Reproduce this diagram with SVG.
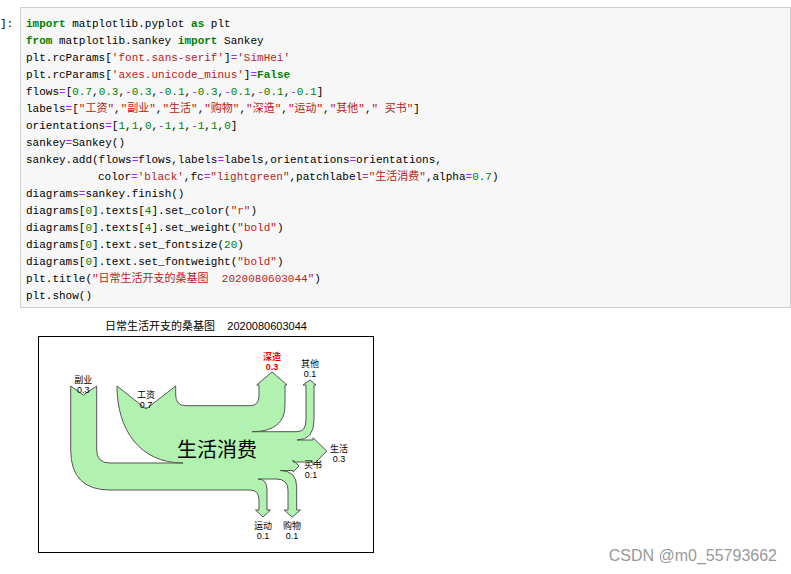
<svg xmlns="http://www.w3.org/2000/svg" width="791" height="574" viewBox="0 0 791 574">
<style>
.c{font-family:"Liberation Mono","Noto Sans CJK SC",monospace;font-size:11px;fill:#000}
.k{fill:#008000;font-weight:bold}.s{fill:#ba2121}.o{fill:#aa22ff}.n{fill:#008000}
.l{font-family:"Liberation Sans","Noto Sans CJK SC",sans-serif;font-size:9px;text-anchor:middle;fill:#000}
.r{fill:#ee0000;font-weight:bold}
</style>
<rect width="791" height="574" fill="#fff"/>
<rect x="20.5" y="7.5" width="770" height="300" fill="#f7f7f7" stroke="#cfcfcf"/>
<text x="0" y="27" class="c">]:</text>
<g id="code" class="c">
<text x="26" y="27"><tspan class="k">import</tspan> matplotlib.pyplot <tspan class="k">as</tspan> plt</text>
<text x="26" y="44"><tspan class="k">from</tspan> matplotlib.sankey <tspan class="k">import</tspan> Sankey</text>
<text x="26" y="61">plt.rcParams[<tspan class="s">'font.sans-serif'</tspan>]<tspan class="o">=</tspan><tspan class="s">'SimHei'</tspan></text>
<text x="26" y="78">plt.rcParams[<tspan class="s">'axes.unicode_minus'</tspan>]<tspan class="o">=</tspan><tspan class="k">False</tspan></text>
<text x="26" y="95">flows<tspan class="o">=</tspan>[<tspan class="n">0.7</tspan>,<tspan class="n">0.3</tspan>,<tspan class="o">-</tspan><tspan class="n">0.3</tspan>,<tspan class="o">-</tspan><tspan class="n">0.1</tspan>,<tspan class="o">-</tspan><tspan class="n">0.3</tspan>,<tspan class="o">-</tspan><tspan class="n">0.1</tspan>,<tspan class="o">-</tspan><tspan class="n">0.1</tspan>,<tspan class="o">-</tspan><tspan class="n">0.1</tspan>]</text>
<text x="26" y="112" xml:space="preserve">labels<tspan class="o">=</tspan>[<tspan class="s">"工资"</tspan>,<tspan class="s">"副业"</tspan>,<tspan class="s">"生活"</tspan>,<tspan class="s">"购物"</tspan>,<tspan class="s">"深造"</tspan>,<tspan class="s">"运动"</tspan>,<tspan class="s">"其他"</tspan>,<tspan class="s">" 买书"</tspan>]</text>
<text x="26" y="129">orientations<tspan class="o">=</tspan>[<tspan class="n">1</tspan>,<tspan class="n">1</tspan>,<tspan class="n">0</tspan>,<tspan class="o">-</tspan><tspan class="n">1</tspan>,<tspan class="n">1</tspan>,<tspan class="o">-</tspan><tspan class="n">1</tspan>,<tspan class="n">1</tspan>,<tspan class="n">0</tspan>]</text>
<text x="26" y="146">sankey<tspan class="o">=</tspan>Sankey()</text>
<text x="26" y="163">sankey.add(flows<tspan class="o">=</tspan>flows,labels<tspan class="o">=</tspan>labels,orientations<tspan class="o">=</tspan>orientations,</text>
<text x="98" y="180">color<tspan class="o">=</tspan><tspan class="s">'black'</tspan>,fc<tspan class="o">=</tspan><tspan class="s">"lightgreen"</tspan>,patchlabel<tspan class="o">=</tspan><tspan class="s">"生活消费"</tspan>,alpha<tspan class="o">=</tspan><tspan class="n">0.7</tspan>)</text>
<text x="26" y="197">diagrams<tspan class="o">=</tspan>sankey.finish()</text>
<text x="26" y="214">diagrams[<tspan class="n">0</tspan>].texts[<tspan class="n">4</tspan>].set_color(<tspan class="s">"r"</tspan>)</text>
<text x="26" y="231">diagrams[<tspan class="n">0</tspan>].texts[<tspan class="n">4</tspan>].set_weight(<tspan class="s">"bold"</tspan>)</text>
<text x="26" y="248">diagrams[<tspan class="n">0</tspan>].text.set_fontsize(<tspan class="n">20</tspan>)</text>
<text x="26" y="265">diagrams[<tspan class="n">0</tspan>].text.set_fontweight(<tspan class="s">"bold"</tspan>)</text>
<text x="26" y="282" xml:space="preserve">plt.title(<tspan class="s">"日常生活开支的桑基图  2020080603044"</tspan>)</text>
<text x="26" y="299">plt.show()</text>
</g>
<text x="206" y="330" font-family="Liberation Sans,Noto Sans CJK SC,sans-serif" font-size="11" text-anchor="middle" xml:space="preserve">日常生活开支的桑基图    2020080603044</text>
<rect x="38.5" y="336.5" width="335" height="216" fill="#fff" stroke="#000"/>
<g id="connectors">
<path id="sankey" fill="#b2f2b0" stroke="#555" stroke-width="1" stroke-linejoin="round" d="M70.7 386 L83.3 395 L96.7 386 L96.7 450 Q96.7 463 110 463 L183 463 C140 463 117 430 117 386 L146 409 L175.7 386 L175.7 395 Q175.7 405.7 186 405.7 L250 405.7 Q259 405.7 259 396 L259 385 L256.7 385 L272 372 L287 385 L285 385 L285 405 Q285 431.7 252 431.7 L297 431.7 Q306 431.7 306 420 L306 385 L303 385 L310 380 L316 385 L314 385 L314 420 Q314 440 297 440 L313 440 L313 437.7 L326.7 451 L313 465 L313 462 L293 462 L293 460 L299 466 L293 472 L293 470.5 L280 470.5 Q296.7 470.5 296.7 487 L296.7 510 L300.5 510 L292.3 517 L284 510 L288 510 L288 490 Q288 479 276 479 L258 479 Q267 479 267 490 L267 510 L270.5 510 L263 517 L255.5 510 L259 510 L259 500 Q259 490 250 490 L110 490 Q70.7 490 70.7 450 Z"/>
</g>
<g id="labels">
<text class="l" x="83.3" y="383">副业</text><text class="l" x="83.3" y="393">0.3</text>
<text class="l" x="146" y="398">工资</text><text class="l" x="146" y="408">0.7</text>
<text class="l r" x="272" y="360">深造</text><text class="l r" x="272" y="370">0.3</text>
<text class="l" x="310" y="367">其他</text><text class="l" x="310" y="377">0.1</text>
<text class="l" x="339" y="452">生活</text><text class="l" x="339" y="462">0.3</text>
<text class="l" x="313" y="468">买书</text><text class="l" x="311" y="478">0.1</text>
<text class="l" x="263" y="529">运动</text><text class="l" x="263" y="539">0.1</text>
<text class="l" x="292" y="529">购物</text><text class="l" x="292" y="539">0.1</text>
<text x="217" y="457" font-family="Noto Sans CJK SC,sans-serif" font-size="20" text-anchor="middle">生活消费</text>
</g>
<text x="777" y="561" font-family="Liberation Sans,Noto Sans CJK SC,sans-serif" font-size="16" fill="#999" text-anchor="end">CSDN @m0_55793662</text>
</svg>
